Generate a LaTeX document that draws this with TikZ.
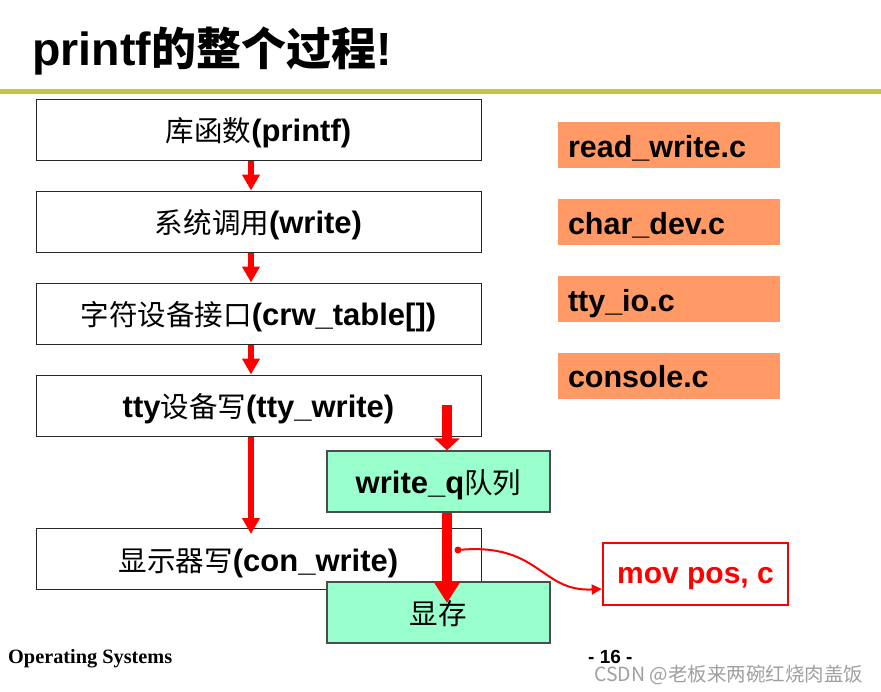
\documentclass[tikz,border=0pt]{standalone}
\usepackage{fontspec}
\setmainfont{Liberation Sans}
\newfontfamily\cjk[Scale=0.92]{Noto Sans CJK SC}
\newfontfamily\wmfont{Noto Sans CJK SC}
\newfontfamily\footserif{Liberation Serif}
\usetikzlibrary{arrows.meta}
\definecolor{titleline}{RGB}{198,196,64}
\definecolor{memgreen}{RGB}{153,255,204}
\definecolor{fileorange}{RGB}{255,153,102}
\definecolor{wmgray}{RGB}{160,160,160}
\newcommand\cjt[1]{{\cjk #1}}
\begin{document}
\begin{tikzpicture}[x=1pt,y=-1pt,
  boxfont/.style={font=\fontsize{31}{36}\selectfont, text height=28pt, text depth=4pt},
  wbox/.style={boxfont, draw=black!85, line width=1pt, fill=white, minimum width=445pt, minimum height=61pt, inner sep=0pt},
  gbox/.style={boxfont, draw=black!70, line width=1.3pt, fill=memgreen, minimum width=223pt, minimum height=61pt, inner sep=0pt},
  obox/.style={boxfont, fill=fileorange, text width=202pt, inner xsep=10pt, inner ysep=0pt, minimum height=46pt, align=left, font=\fontsize{30.5}{36}\selectfont\bfseries},
  tarrow/.style={draw=red, line width=6pt, -{Triangle[width=17pt,length=16pt]}},
  karrow/.style={draw=red, line width=10pt},
]
\useasboundingbox (0,0) rectangle (881,691);
\fill[white] (0,0) rectangle (881,691);

% title
\node[anchor=base west, inner sep=0pt, font=\fontsize{46.5}{52}\selectfont] (title) at (32,65)
  {\textbf{printf}{\wmfont\bfseries\fontsize{45}{52}\selectfont 的整个过程}\textbf{!}};
\coordinate (tl0) at (0,91.5);
\coordinate (tl1) at (881,91.5);
\draw[titleline, line width=5pt] (tl0) -- (tl1);

% left chain
\node[wbox] (b1) at (258.5,129.5) {\cjt{库函数}\textbf{(printf)}};
\node[wbox] (b2) at (258.5,221.5) {\cjt{系统调用}\textbf{(write)}};
\node[wbox] (b3) at (258.5,313.5) {\cjt{字符设备接口}\textbf{(crw\_table[])}};
\node[wbox] (b4) at (258.5,405.5) {\textbf{tty}\cjt{设备写}\textbf{(tty\_write)}};
\node[wbox] (b5) at (258.5,559) {\cjt{显示器写}\textbf{(con\_write)}};

\draw[tarrow] ([xshift=-7.5pt]b1.south) -- ([xshift=-7.5pt]b2.north);
\draw[tarrow] ([xshift=-7.5pt]b2.south) -- ([xshift=-7.5pt]b3.north);
\draw[tarrow] ([xshift=-7.5pt]b3.south) -- ([xshift=-7.5pt]b4.north);
\draw[tarrow] ([xshift=-7.5pt]b4.south) -- ([xshift=-7.5pt,yshift=-6pt]b5.north);

% queue and video memory
\node[gbox] (wq) at (438.5,481.5) {\textbf{write\_q}\cjt{队列}};
\node[gbox] (vm) at (438.5,612.5) {\cjt{显存}};

\coordinate (q0) at (447,405);
\coordinate (q1) at (447,603);
\draw[karrow, -{Triangle[width=25pt,length=12pt]}] (q0) -- (q0 |- wq.north);
\draw[karrow, -{Triangle[width=25pt,length=21pt]}] (q0 |- wq.south) -- (q1);

% mov pos, c
\node[draw=red, line width=2.5pt, minimum width=185pt, minimum height=62pt, inner sep=0pt,
      text=red, font=\fontsize{30}{36}\selectfont\bfseries, text height=24pt, text depth=6pt] (mov) at (695.5,574) {mov pos, c};
\coordinate (d0) at (458,550);
\fill[red] (d0) circle (3.5pt);
\draw[red, line width=2pt, -{Triangle[width=10pt,length=10pt]}]
  (d0) .. controls (540,542) and (540,592) .. ([yshift=-15pt]mov.west);

% file boxes
\node[obox] (f1) at (669,145) {read\_write.c};
\node[obox] (f2) at (669,222) {char\_dev.c};
\node[obox] (f3) at (669,299) {tty\_io.c};
\node[obox] (f4) at (669,375.5) {console.c};

% footer
\node[anchor=base west, inner sep=0pt, font=\fontsize{20.3}{22}\selectfont\footserif\bfseries] (os) at (8,663) {Operating Systems};
\node[anchor=base west, inner sep=0pt, font=\fontsize{19}{20}\selectfont\bfseries, text depth=0pt] (pg) at (588,663) {- 16 -};
\node[anchor=base west, inner sep=0pt, text=wmgray, font=\fontsize{19.5}{20}\selectfont\wmfont, text height=14pt, text depth=3pt] (wm) at (594,681) {CSDN @老板来两碗红烧肉盖饭};
\end{tikzpicture}
\end{document}
